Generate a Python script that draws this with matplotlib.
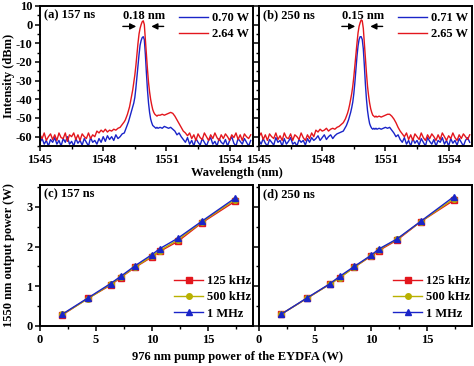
import matplotlib
matplotlib.use("Agg")
import matplotlib.pyplot as plt
from matplotlib.ticker import MultipleLocator

plt.rcParams['font.family'] = ['Liberation Serif', 'DejaVu Serif']
plt.rcParams['font.weight'] = 'bold'
plt.rcParams['font.size'] = 9
plt.rcParams['axes.labelweight'] = 'bold'
plt.rcParams['axes.unicode_minus'] = False

# wavelength grid of the OSA traces (nm)
wl = [1545.0, 1545.1, 1545.2, 1545.3, 1545.4, 1545.5, 1545.6, 1545.7, 1545.8, 1545.9,
      1546.0, 1546.1, 1546.2, 1546.3, 1546.4, 1546.5, 1546.6, 1546.7, 1546.8, 1546.9,
      1547.0, 1547.1, 1547.2, 1547.3, 1547.4, 1547.5, 1547.6, 1547.7, 1547.8, 1547.9,
      1548.0, 1548.1, 1548.2, 1548.3, 1548.4, 1548.5, 1548.6, 1548.7, 1548.8, 1548.9,
      1549.0,
      1549.05, 1549.10, 1549.15, 1549.20, 1549.25, 1549.30, 1549.35, 1549.40, 1549.45, 1549.50,
      1549.55, 1549.60, 1549.65, 1549.70, 1549.75, 1549.80, 1549.85, 1549.90, 1549.95, 1550.00,
      1550.05, 1550.10, 1550.15, 1550.20, 1550.25, 1550.30, 1550.35, 1550.40, 1550.45, 1550.50,
      1550.55, 1550.60,
      1550.7, 1550.8, 1550.9, 1551.0, 1551.1, 1551.2, 1551.3, 1551.4, 1551.5, 1551.6,
      1551.7, 1551.8, 1551.9, 1552.0, 1552.1, 1552.2, 1552.3, 1552.4, 1552.5, 1552.6,
      1552.7, 1552.8, 1552.9, 1553.0, 1553.1, 1553.2, 1553.3, 1553.4, 1553.5, 1553.6,
      1553.7, 1553.8, 1553.9, 1554.0, 1554.1, 1554.2, 1554.3, 1554.4, 1554.5, 1554.6,
      1554.7, 1554.8, 1554.9, 1555.0]

# (a) 157 ns spectra (dBm)
a_low = [-63, -61, -64, -62, -65, -61.5, -63, -60.5, -64, -62,
         -65, -61, -63, -60, -64, -62.5, -65, -61, -63.5, -62,
         -64.5, -61, -63, -65, -60.5, -63, -62, -64, -61, -63,
         -60, -62.5, -59.5, -61.5, -60, -62, -59, -61, -60, -58.5,
         -58,
         -56.5, -55, -53.5, -52, -50, -48, -46, -44, -42, -39,
         -34, -28, -22, -16, -11, -8.5, -7, -6.5, -8, -16,
         -26, -35, -42, -47, -50.5, -52.5, -54, -54.5, -55, -55.5,
         -55, -55.5,
         -55, -55.5, -54.5, -55, -55.5, -55, -56, -57, -59, -58,
         -60, -61.5, -63, -60.5, -64, -62, -65, -61, -63, -64.5,
         -61, -63, -65, -62, -60.5, -64, -62.5, -65, -61, -63,
         -64, -61.5, -65, -62, -60, -63.5, -65, -61, -62.5, -64,
         -61, -63, -65, -62]
a_high = [-59, -61, -58, -62, -60, -58.5, -61.5, -59, -62, -58,
          -60.5, -61, -58, -62.5, -59, -60, -58, -61.5, -59, -62,
          -58.5, -60, -61, -58, -61, -59, -60, -57, -58, -56.5,
          -57.5, -56, -57.5, -56.5, -57, -56, -56.5, -55.5, -55, -53.5,
          -52,
          -51, -49.5, -48, -46, -44, -41, -38, -35, -31, -27,
          -22, -16, -10, -5, -2, 0, 1.5, 2, 0, -8,
          -16, -24, -31, -36, -40, -43, -45.5, -47, -48, -48.5,
          -49, -48.5,
          -48.5, -48, -48.5, -48, -47.5, -47, -47.5, -49, -51, -53,
          -55, -57, -58, -59.5, -58, -61, -59, -62, -58.5, -60.5,
          -61.5, -58, -60, -62, -59, -61, -58, -60.5, -62, -59,
          -61, -58.5, -60, -62, -59, -60.5, -58, -61.5, -59, -62,
          -58.5, -60, -61, -59]

# (b) 250 ns spectra (dBm)
b_low = [-62, -64, -61, -63.5, -65, -61.5, -63, -64.5, -60.5, -63,
         -62, -65, -61, -64, -62.5, -60.5, -64, -63, -65, -61.5,
         -63, -62, -64.5, -61, -63, -60.5, -62, -61, -59.5, -62,
         -60.5, -59, -61.5, -60, -59, -61, -59.5, -58.5, -58, -57.5,
         -57,
         -56, -55, -54, -52.5, -51, -49, -47, -44.5, -41.5, -37,
         -31, -24, -17, -11.5, -8, -6.5, -6.5, -8, -13, -22,
         -32, -40, -46, -50, -53, -54.5, -55.5, -56, -55.5, -56,
         -55.5, -56,
         -55.5, -56, -55.5, -55, -55.5, -55, -56.5, -58, -60, -59,
         -61.5, -63, -60.5, -64, -62, -65, -61, -63.5, -62, -64.5,
         -61, -63, -65, -60.5, -62.5, -64, -61.5, -65, -62, -63,
         -60.5, -64, -62, -65, -61, -63.5, -62, -64.5, -61, -63,
         -65, -62, -60.5, -63]
b_high = [-60, -58, -61.5, -59, -62, -58.5, -60, -61, -58, -61.5,
          -59.5, -62, -58, -60.5, -61, -58.5, -62, -59, -60, -61.5,
          -58, -60.5, -62, -59, -61, -58, -60, -56.5, -57.5, -56,
          -57, -56.5, -55.5, -57, -56, -55.5, -56, -55, -54.5, -53.5,
          -52.5,
          -51.5, -50.5, -49, -47.5, -45.5, -43, -40, -37, -33, -28,
          -22, -16, -10, -4.5, -1, 1, 2.5, 2, -2, -10,
          -18, -26, -33, -38, -42, -45, -47, -48.5, -49, -49.5,
          -49, -49.5,
          -49, -49.5, -49, -48.5, -48, -48, -49, -50.5, -52.5, -55,
          -57, -58.5, -60, -58, -61.5, -59, -62, -58.5, -60, -61.5,
          -58, -60.5, -62, -59, -61, -58.5, -60, -62, -59, -61.5,
          -58, -60, -62, -59.5, -61, -58, -60.5, -62, -59, -61,
          -58.5, -60, -61.5, -59]

# output power vs pump power
pump = [2.0, 4.3, 6.3, 7.2, 8.5, 10.0, 10.7, 12.3, 14.45, 17.4]
c_125k = [0.28, 0.70, 1.03, 1.22, 1.48, 1.74, 1.88, 2.13, 2.60, 3.14]
c_500k = [0.29, 0.69, 1.05, 1.23, 1.49, 1.76, 1.90, 2.17, 2.62, 3.18]
c_1M = [0.30, 0.71, 1.07, 1.25, 1.52, 1.80, 1.95, 2.21, 2.64, 3.22]
d_125k = [0.30, 0.70, 1.05, 1.22, 1.48, 1.76, 1.90, 2.16, 2.63, 3.17]
d_500k = [0.30, 0.70, 1.05, 1.21, 1.48, 1.77, 1.92, 2.18, 2.63, 3.21]
d_1M = [0.30, 0.71, 1.06, 1.25, 1.50, 1.78, 1.94, 2.19, 2.64, 3.26]

RED = '#e3161d'
BLUE = '#1a24c8'
OLIVE = '#b9b100'

fig = plt.figure(figsize=(4.74, 3.66), dpi=100)
ax_a = fig.add_axes([0.0844, 0.601, 0.449, 0.383])
ax_b = fig.add_axes([0.5464, 0.601, 0.449, 0.383])
ax_c = fig.add_axes([0.0844, 0.1093, 0.449, 0.385])
ax_d = fig.add_axes([0.5464, 0.1093, 0.449, 0.385])


def style(ax):
    for s in ax.spines.values():
        s.set_linewidth(1.4)
    ax.tick_params(which='major', direction='out', length=3.5, width=1.1, pad=2)
    ax.tick_params(which='minor', direction='out', length=2, width=1.0)


spectra = [(ax_a, a_low, a_high, '0.70 W', '2.64 W', '(a) 157 ns', '0.18 nm'),
           (ax_b, b_low, b_high, '0.71 W', '2.65 W', '(b) 250 ns', '0.15 nm')]
for ax, low, high, lab_lo, lab_hi, title, width in spectra:
    ax.plot(wl, low, color=BLUE, lw=1.0, label=lab_lo)
    ax.plot(wl, high, color=RED, lw=1.0, label=lab_hi)
    ax.set_xlim(1545, 1555.1)
    ax.set_ylim(-65, 10)
    ax.xaxis.set_major_locator(MultipleLocator(3))
    ax.xaxis.set_minor_locator(MultipleLocator(1.5))
    ax.yaxis.set_major_locator(MultipleLocator(10))
    ax.yaxis.set_minor_locator(MultipleLocator(5))
    style(ax)
    ax.text(0.02, 0.975, title, transform=ax.transAxes, ha='left', va='top')
    ax.text(1549.93, 4.5, width, ha='center', va='center')
    ax.annotate('', xy=(1549.7, -1), xytext=(1548.8, -1),
                arrowprops=dict(arrowstyle='-|>', color='k', lw=1.0, mutation_scale=9))
    ax.annotate('', xy=(1550.15, -1), xytext=(1551.0, -1),
                arrowprops=dict(arrowstyle='-|>', color='k', lw=1.0, mutation_scale=9))
    ax.legend(loc='upper right', frameon=False, handlelength=2.3, handletextpad=0.3,
              borderaxespad=0.1, labelspacing=0.35, bbox_to_anchor=(1.01, 1.0))

ax_a.set_ylabel('Intensity (dBm)')
ax_a.yaxis.set_label_coords(-0.118, 0.5)
ax_b.set_yticklabels([])
fig.text(0.5, 0.527, 'Wavelength (nm)', ha='center', va='center', fontweight='bold')

powers = [(ax_c, c_125k, c_500k, c_1M, '(c) 157 ns'),
          (ax_d, d_125k, d_500k, d_1M, '(d) 250 ns')]
for ax, p1, p2, p3, title in powers:
    ax.plot(pump, p1, color=RED, marker='s', ms=4, lw=1.0, label='125 kHz')
    ax.plot(pump, p2, color=OLIVE, marker='o', ms=4, lw=1.0, label='500 kHz')
    ax.plot(pump, p3, color=BLUE, marker='^', ms=4.5, lw=1.0, label='1 MHz')
    ax.set_xlim(0, 19)
    ax.set_ylim(0, 3.55)
    ax.xaxis.set_major_locator(MultipleLocator(5))
    ax.xaxis.set_minor_locator(MultipleLocator(2.5))
    ax.yaxis.set_major_locator(MultipleLocator(1))
    ax.yaxis.set_minor_locator(MultipleLocator(0.5))
    style(ax)
    ax.text(0.02, 0.975, title, transform=ax.transAxes, ha='left', va='top')
    ax.legend(loc='lower right', frameon=False, handlelength=2.3, handletextpad=0.3,
              borderaxespad=0.1, labelspacing=0.35, bbox_to_anchor=(1.02, 0.0))

ax_c.set_ylabel('1550 nm output power (W)')
ax_c.yaxis.set_label_coords(-0.118, 0.5)
ax_d.set_yticklabels([])
fig.text(0.5, 0.025, '976 nm pump power of the EYDFA (W)', ha='center', va='center',
         fontweight='bold')

fig.savefig('out.png', dpi=100)
